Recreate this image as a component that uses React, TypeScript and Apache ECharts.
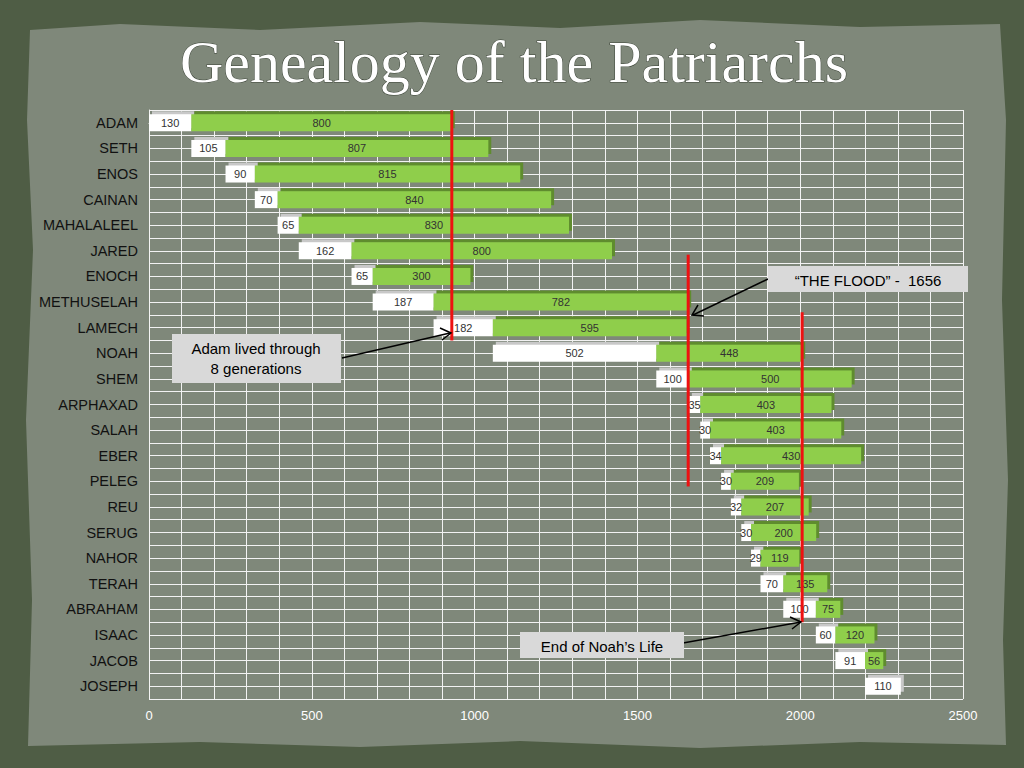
import React, { useEffect, useRef } from "react";
import * as echarts from "echarts";

const patriarchs = [
  "ADAM", "SETH", "ENOS", "CAINAN", "MAHALALEEL", "JARED", "ENOCH", "METHUSELAH",
  "LAMECH", "NOAH", "SHEM", "ARPHAXAD", "SALAH", "EBER", "PELEG", "REU", "SERUG",
  "NAHOR", "TERAH", "ABRAHAM", "ISAAC", "JACOB", "JOSEPH",
];
const birthYear = [
  0, 130, 235, 325, 395, 460, 622, 687, 874, 1056, 1558, 1658, 1693, 1723, 1757,
  1787, 1819, 1849, 1878, 1948, 2048, 2108, 2199,
];
const ageAtSon = [
  130, 105, 90, 70, 65, 162, 65, 187, 182, 502, 100, 35, 30, 34, 30, 32, 30, 29,
  70, 100, 60, 91, 110,
];
const yearsAfter = [
  800, 807, 815, 840, 830, 800, 300, 782, 595, 448, 500, 403, 403, 430, 209, 207,
  200, 119, 135, 75, 120, 56, 0,
];
// [year, from row, to row]
const markerLines = [
  [930, -0.5, 8.5],
  [1656, 5.15, 14.2],
  [2006, 7.4, 19.5],
];
const xTicks = [0, 500, 1000, 1500, 2000, 2500];

const GREEN = "#8fce4c";
const GREEN_DARK = "#5e8c2e";

export default function App() {
  const ref = useRef<HTMLDivElement>(null);

  useEffect(() => {
    document.body.style.margin = "0";
    const chart = echarts.init(ref.current!, undefined, { renderer: "svg" });

    const panel = [
      [30, 30], [120, 24], [260, 30], [420, 22], [560, 28], [700, 20], [860, 27],
      [1000, 24], [1006, 120], [1002, 300], [1008, 480], [1003, 640], [1006, 745],
      [860, 742], [700, 748], [520, 741], [360, 747], [200, 742], [28, 746],
      [32, 600], [26, 420], [33, 250], [27, 120],
    ];

    const labelCfg = {
      show: true,
      position: "inside",
      color: "#333",
      fontSize: 11,
      fontFamily: "Liberation Sans, Arial",
      formatter: (p: any) => (p.value > 0 ? String(p.value) : ""),
    };

    chart.setOption({
      animation: false,
      backgroundColor: "#4f5d45",
      grid: { left: 149, right: 61, top: 110, bottom: 69 },
      xAxis: {
        type: "value",
        min: 0,
        max: 2500,
        interval: 500,
        axisLine: { show: true, lineStyle: { color: "#f4f4f4", width: 1 } },
        axisTick: { show: true, length: 4, lineStyle: { color: "#f4f4f4" } },
        axisLabel: {
          color: "#ffffff",
          fontSize: 13,
          fontFamily: "Liberation Sans, Arial",
          margin: 10,
          formatter: (v: number) => (xTicks.includes(v) ? String(v) : ""),
        },
        splitLine: { show: true, lineStyle: { color: "#f2f2f2", width: 1 } },
        minorTick: { show: false, splitNumber: 5 },
        minorSplitLine: { show: true, lineStyle: { color: "#f2f2f2", width: 1 } },
      },
      yAxis: [
        {
          type: "category",
          data: patriarchs,
          inverse: true,
          axisLine: { show: true, lineStyle: { color: "#f4f4f4" } },
          axisTick: { show: false },
          axisLabel: {
            color: "#111",
            fontSize: 14.5,
            fontFamily: "Liberation Sans, Arial",
            margin: 11,
          },
          splitLine: { show: false },
        },
        {
          type: "value",
          min: -0.5,
          max: 22.5,
          interval: 0.5,
          inverse: true,
          position: "right",
          axisLine: { show: false },
          axisTick: { show: false },
          axisLabel: { show: false },
          splitLine: { show: true, lineStyle: { color: "#f2f2f2", width: 1 } },
        },
      ],
      graphic: [
        {
          type: "polygon",
          z: -10,
          silent: true,
          shape: { points: panel },
          style: { fill: "#7f887a" },
        },
        {
          type: "text",
          z: 10,
          x: 514,
          y: 62,
          style: {
            text: "Genealogy of the Patriarchs",
            fontSize: 60,
            fontFamily: "Liberation Serif, serif",
            fill: "#ffffff",
            stroke: "#3a4236",
            lineWidth: 1,
            align: "center",
            verticalAlign: "middle",
            shadowColor: "rgba(0,0,0,0.5)",
            shadowBlur: 3,
            shadowOffsetX: 2,
            shadowOffsetY: 2,
          },
        },
        // Annotation: Adam
        {
          type: "line",
          z: 20,
          shape: { x1: 342, y1: 358, x2: 450, y2: 333 },
          style: { stroke: "#000", lineWidth: 1.5 },
        },
        {
          type: "polyline",
          z: 20,
          shape: { points: [[440, 328], [451, 333], [442, 340]] },
          style: { stroke: "#000", lineWidth: 1.5, fill: "none" },
        },
        {
          type: "rect",
          z: 20,
          shape: { x: 172, y: 334, width: 169, height: 49 },
          style: { fill: "#d9d9d9" },
        },
        {
          type: "text",
          z: 21,
          x: 256,
          y: 358,
          style: {
            text: "Adam lived through\n8 generations",
            fontSize: 15,
            lineHeight: 20,
            fontFamily: "Liberation Sans, Arial",
            fill: "#000",
            align: "center",
            verticalAlign: "middle",
          },
        },
        // Annotation: Flood
        {
          type: "line",
          z: 20,
          shape: { x1: 768, y1: 279, x2: 693, y2: 315 },
          style: { stroke: "#000", lineWidth: 1.5 },
        },
        {
          type: "polyline",
          z: 20,
          shape: { points: [[698, 305], [692, 315], [704, 316]] },
          style: { stroke: "#000", lineWidth: 1.5, fill: "none" },
        },
        {
          type: "rect",
          z: 20,
          shape: { x: 768, y: 266, width: 200, height: 26 },
          style: { fill: "#d9d9d9" },
        },
        {
          type: "text",
          z: 21,
          x: 868,
          y: 280,
          style: {
            text: "\u201CTHE FLOOD\u201D -  1656",
            fontSize: 15,
            fontFamily: "Liberation Sans, Arial",
            fill: "#000",
            align: "center",
            verticalAlign: "middle",
          },
        },
        // Annotation: Noah
        {
          type: "line",
          z: 20,
          shape: { x1: 683, y1: 643, x2: 801, y2: 622 },
          style: { stroke: "#000", lineWidth: 1.5 },
        },
        {
          type: "polyline",
          z: 20,
          shape: { points: [[790, 617], [801, 622], [792, 629]] },
          style: { stroke: "#000", lineWidth: 1.5, fill: "none" },
        },
        {
          type: "rect",
          z: 20,
          shape: { x: 520, y: 632, width: 164, height: 26 },
          style: { fill: "#d9d9d9" },
        },
        {
          type: "text",
          z: 21,
          x: 602,
          y: 646,
          style: {
            text: "End of Noah\u2019s Life",
            fontSize: 15,
            fontFamily: "Liberation Sans, Arial",
            fill: "#000",
            align: "center",
            verticalAlign: "middle",
          },
        },
      ],
      series: [
        {
          name: "birth",
          type: "bar",
          stack: "life",
          barWidth: 17,
          silent: true,
          itemStyle: { color: "transparent" },
          data: birthYear,
        },
        {
          name: "age at son",
          type: "bar",
          stack: "life",
          barWidth: 17,
          itemStyle: {
            color: "#ffffff",
            shadowColor: "#c8c8c8",
            shadowOffsetX: 3,
            shadowOffsetY: -3,
            shadowBlur: 0,
          },
          label: labelCfg,
          data: ageAtSon,
        },
        {
          name: "remaining",
          type: "bar",
          stack: "life",
          barWidth: 17,
          itemStyle: {
            color: GREEN,
            shadowColor: GREEN_DARK,
            shadowOffsetX: 3,
            shadowOffsetY: -3,
            shadowBlur: 0,
          },
          label: labelCfg,
          data: yearsAfter,
        },
        {
          name: "events",
          type: "custom",
          yAxisIndex: 1,
          z: 15,
          silent: true,
          renderItem: (params: any, api: any) => {
            const x = api.value(0);
            const p1 = api.coord([x, api.value(1)]);
            const p2 = api.coord([x, api.value(2)]);
            return {
              type: "line",
              shape: { x1: p1[0], y1: p1[1], x2: p2[0], y2: p2[1] },
              style: { stroke: "#ee1111", lineWidth: 3 },
            };
          },
          data: markerLines,
        },
      ],
    });

    return () => chart.dispose();
  }, []);

  return (
    <div
      ref={ref}
      style={{ position: "absolute", left: 0, top: 0, width: 1024, height: 768 }}
    />
  );
}
